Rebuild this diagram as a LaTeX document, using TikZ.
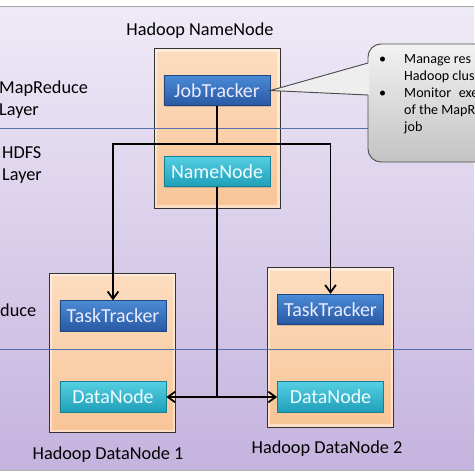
\documentclass[tikz,border=0pt]{standalone}
\usepackage{fontspec}
\setmainfont{Carlito}
\usetikzlibrary{arrows.meta}
\usetikzlibrary{positioning}
\usetikzlibrary{shadows}

\definecolor{bgtop}{HTML}{EFEAF7}
\definecolor{bgbottom}{HTML}{C4B3DE}
\definecolor{peachtop}{HTML}{FCDDC0}
\definecolor{peachbottom}{HTML}{F8C496}
\definecolor{jobtop}{HTML}{4B8BD6}
\definecolor{jobbottom}{HTML}{2858A3}
\definecolor{datatop}{HTML}{55CFE3}
\definecolor{databottom}{HTML}{1E9FB8}
\definecolor{layerline}{HTML}{5572AC}
\definecolor{notetop}{HTML}{F2F2F2}
\definecolor{notebottom}{HTML}{C3C3C3}

\newcommand{\labelfont}{\fontsize{15.6}{18.8}\selectfont}
\newcommand{\boxfont}{\fontsize{17}{20}\selectfont}
\newcommand{\notefont}{\fontsize{12}{14.5}\selectfont}

\tikzset{
	hostbox/.style={draw=black!80, line width=0.8pt, top color=peachtop, bottom color=peachbottom,
		minimum width=3.78cm, minimum height=4.78cm, inner sep=0pt,
		path picture={\draw[white, opacity=0.45, line width=5pt]
			(path picture bounding box.south west) rectangle (path picture bounding box.north east);}},
	jobbox/.style={draw=jobbottom!80!black, line width=0.6pt, top color=jobtop, bottom color=jobbottom,
		minimum width=3.18cm, minimum height=0.92cm, inner sep=0pt, text=blue!8, font=\boxfont,
		drop shadow={opacity=0.35, shadow xshift=0.8pt, shadow yshift=-0.8pt}},
	databox/.style={draw=databottom!80!black, line width=0.6pt, top color=datatop, bottom color=databottom,
		minimum width=3.18cm, minimum height=0.92cm, inner sep=0pt, text=cyan!5, font=\boxfont,
		drop shadow={opacity=0.35, shadow xshift=0.8pt, shadow yshift=-0.8pt}},
	wire/.style={line width=1.5pt, black},
	tip/.style={-{Straight Barb[length=2.2mm, width=3.2mm]}},
}

\begin{document}
\begin{tikzpicture}[x=0.03cm, y=-0.03cm]
\useasboundingbox (0,0) rectangle (474,474);

% background
\fill[top color=bgtop, bottom color=bgbottom] (0,6) rectangle (474,470);
\draw[gray!70, line width=0.6pt] (0,6) -- (474,6);
\draw[gray!60, line width=0.6pt] (0,470) -- (474,470);

% hosts
\node[hostbox] (namehost) at (217,128.5) {};
\node[hostbox] (datahost1) at (112.5,353) {};
\node[hostbox] (datahost2) at (330.5,347.5) {};

% layer borders
\draw[layerline, line width=0.8pt] (0,128) -- (474,128);
\draw[layerline, line width=0.8pt] (0,349) -- (472,349);

% daemons
\node[jobbox] (jt) at (217,90.5) {JobTracker};
\node[databox] (nn) at (217,171.5) {NameNode};
\node[jobbox] (tt1) at (113,316) {TaskTracker};
\node[databox] (dn1) at (113,397) {DataNode};
\node[jobbox] (tt2) at (330.5,309.5) {TaskTracker};
\node[databox] (dn2) at (330.5,397) {DataNode};

% connectors
\coordinate (split) at (217,144);
\draw[wire] (jt.south) -- (split);
\draw[wire, tip] (split) -| (tt1.north);
\draw[wire, tip] (split) -| (tt2.north);
\draw[wire] (nn.south) -- (nn.south |- dn1.east);
\draw[wire, tip] (nn.south |- dn1.east) -- (dn1.east);
\draw[wire, tip] (nn.south |- dn2.west) -- (dn2.west);

% note
\node[draw=black!70, line width=0.8pt, rounded corners=0.39cm, top color=notetop, bottom color=notebottom,
	minimum width=3.96cm, minimum height=3.54cm] (jtnote) at (434,103) {};
\coordinate (notetop) at (368,63);
\coordinate (notebot) at (368,95);
\fill[notetop!92!notebottom] (jt.east) -- ([xshift=1pt]notetop) -- ([xshift=1pt]notebot) -- cycle;
\draw[black!70, line width=0.8pt] (notetop) -- (jt.east) -- (notebot);
\node[anchor=north west, align=left, inner sep=0pt, font=\notefont] (jtnotetext) at (379,54)
	{\makebox[0.75cm][l]{\textbullet}Manage res\\
	 \makebox[0.75cm][l]{}Hadoop clus\\
	 \makebox[0.75cm][l]{\textbullet}Monitor\hspace{0.55em}exe\\
	 \makebox[0.75cm][l]{}of the MapR\\
	 \makebox[0.75cm][l]{}job};

% labels
\node[font=\labelfont] (namelabel) at (200,31) {Hadoop NameNode};
\node[font=\labelfont] (datalabel1) at (108,455) {Hadoop DataNode 1};
\node[font=\labelfont] (datalabel2) at (327,449) {Hadoop DataNode 2};
\node[font=\labelfont, anchor=north west, align=left, inner sep=0pt] (mrlayer) at (-1,81) {MapReduce\\Layer};
\node[font=\labelfont, anchor=north west, align=left, inner sep=0pt] (hdfslayer) at (2,146) {HDFS\\Layer};
\node[font=\labelfont, anchor=west, inner sep=0pt] (mrlayer2) at (0,310) {duce};
\end{tikzpicture}
\end{document}
